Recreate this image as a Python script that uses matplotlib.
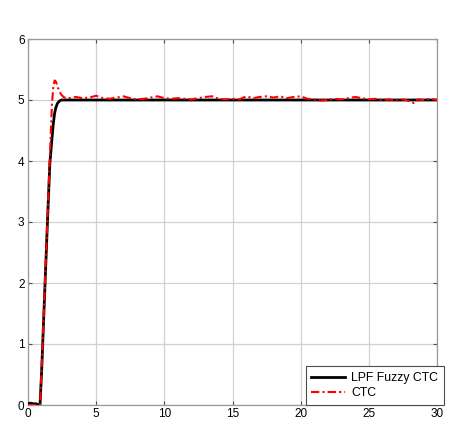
import matplotlib
matplotlib.use("Agg")
import matplotlib.pyplot as plt

plt.rcParams['font.family'] = ['Liberation Sans', 'DejaVu Sans']

# LPF Fuzzy CTC (black solid)
t_lpf = [0, 0.2, 0.4, 0.6, 0.75, 0.88, 1.0, 1.2, 1.4, 1.6, 1.75, 1.85, 1.95, 2.05,
         2.15, 2.25, 2.35, 2.45, 2.6, 3.0, 30]
y_lpf = [0.02, 0.03, 0.02, 0.02, 0.0, 0.0, 0.55, 1.7, 2.85, 3.95, 4.35, 4.6, 4.78, 4.88,
         4.94, 4.97, 4.99, 5.0, 5.0, 5.0, 5.0]

# CTC (red dash-dot)
t_ctc = [0, 0.88, 1.0, 1.2, 1.4, 1.6, 1.75, 1.85, 1.95, 2.05, 2.2, 2.4, 2.6, 2.8,
         3.0, 3.5, 4.0, 4.5, 5.0, 5.5, 6.0, 6.5, 7.0, 7.5, 8.0, 8.5, 9.0, 9.5, 10.0,
         10.5, 11.0, 11.5, 12.0, 12.5, 13.0, 13.5, 14.0, 14.5, 15.0, 15.5, 16.0,
         16.5, 17.0, 17.5, 18.0, 18.5, 19.0, 19.5, 20.0, 20.5, 21.0, 21.5, 22.0,
         22.5, 23.0, 23.5, 24.0, 24.5, 25.0, 25.5, 26.0, 26.5, 27.0, 27.5, 28.0,
         28.3, 28.6, 29.0, 29.5, 30.0]
y_ctc = [0.0, 0.0, 0.6, 1.75, 2.9, 4.05, 4.9, 5.2, 5.32, 5.3, 5.2, 5.1, 5.05, 5.03,
         5.03, 5.05, 5.03, 5.04, 5.07, 5.03, 5.02, 5.04, 5.06, 5.03, 5.01, 5.02,
         5.04, 5.06, 5.03, 5.02, 5.03, 5.02, 5.01, 5.03, 5.05, 5.06, 5.02, 5.01,
         5.02, 5.01, 5.06, 5.03, 5.05, 5.06, 5.04, 5.06, 5.03, 5.05, 5.06, 5.02,
         5.01, 4.99, 5.0, 5.02, 5.01, 5.03, 5.05, 5.03, 5.01, 5.02, 5.0, 5.01,
         4.99, 5.01, 4.98, 4.95, 5.01, 5.0, 5.02, 5.0]

x_ticks = [0, 5, 10, 15, 20, 25, 30]
y_ticks = [0, 1, 2, 3, 4, 5, 6]

fig = plt.figure(figsize=(4.74, 4.42), dpi=100)
ax = fig.add_axes([28/474, 1 - 405/442, (437-28)/474, (405-39)/442])

ax.plot(t_lpf, y_lpf, color='black', lw=2.0, label='LPF Fuzzy CTC', zorder=3)
ax.plot(t_ctc, y_ctc, color='red', lw=1.5, ls=(0, (4, 1.5, 1, 1.5)), label='CTC', zorder=4)

ax.set_xlim(0, 30)
ax.set_ylim(0, 6)
ax.set_xticks(x_ticks)
ax.set_yticks(y_ticks)
ax.grid(True, color='0.82', lw=0.9, ls='-')
ax.set_axisbelow(True)
for s in ax.spines.values():
    s.set_color('0.6')
    s.set_linewidth(0.9)
ax.tick_params(direction='in', length=3, width=0.8, color='0.3', labelsize=8.5,
               top=True, right=True, pad=2.5)

leg = ax.legend(loc='lower right', bbox_to_anchor=(1.017, 0.0), fontsize=8.8,
                frameon=True, fancybox=False, framealpha=1, edgecolor='0.3',
                handlelength=2.8, borderpad=0.45, labelspacing=0.3,
                handletextpad=0.5, borderaxespad=0.0)
leg.get_frame().set_linewidth(0.8)

fig.savefig('out.png', dpi=100)
